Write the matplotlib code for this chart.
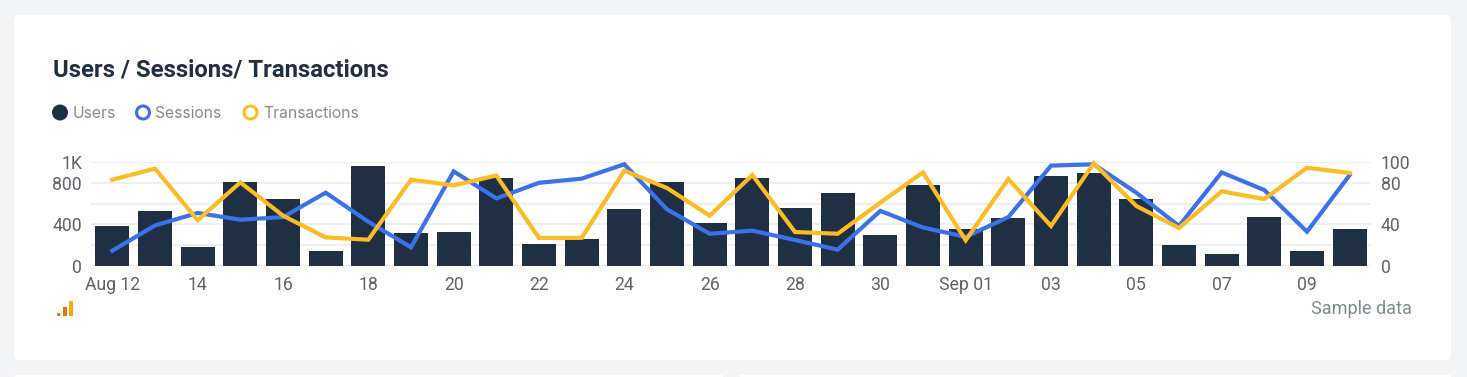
#!/usr/bin/env python3
# Users / Sessions / Transactions card
import matplotlib
matplotlib.use("Agg")
import matplotlib.pyplot as plt
from matplotlib.patches import FancyBboxPatch, Rectangle, Circle

W, H = 1467, 377

# ===== data =====
tick_labels = ["Aug 12", "14", "16", "18", "20", "22", "24", "26", "28", "30",
               "Sep 01", "03", "05", "07", "09"]
users = [385, 529, 183, 805, 644, 141, 960, 314, 327, 846,
         212, 256, 545, 805, 413, 846, 558, 702, 298, 776,
         356, 458, 862, 891, 644, 199, 112, 471, 141, 356]
sessions = [14.7, 39, 51, 44.5, 47, 70.5, 42.6, 18, 91, 65,
            80, 84, 97.8, 54.5, 31, 34, 25, 15.7, 53, 37,
            28, 47, 96.5, 97.8, 70.5, 38.5, 90, 73, 33, 87.5]
transactions = [83, 93.6, 44, 80.4, 48.4, 27.5, 25.3, 83, 77.5, 87,
                27, 27, 91.7, 75, 48.4, 87.5, 32.7, 31, 61, 90,
                24.7, 83.6, 38.5, 98.7, 57.7, 36.5, 71.8, 64.4, 94.5, 89.4]
left_ticks = [0, 200, 400, 600, 800, 1000]
left_labels = ["0", "", "400", "", "800", "1K"]
right_ticks = [0, 20, 40, 60, 80, 100]
right_labels = ["0", "", "40", "", "80", "100"]

NAVY = "#1f3044"
BLUE = "#3b72ea"
YELLOW = "#fdbb24"
TICK = "#5f6368"

fig = plt.figure(figsize=(W / 100, H / 100), dpi=100, facecolor="#f3f4f5")

# background layer in pixel coordinates: cards, legend, icon
bg = fig.add_axes([0, 0, 1, 1], zorder=0)
bg.set_xlim(0, W); bg.set_ylim(H, 0); bg.axis("off")
bg.add_patch(FancyBboxPatch((14, 15), 1437, 345, boxstyle="round,pad=0,rounding_size=6",
                            fc="white", ec="none"))
bg.add_patch(Rectangle((14, 375), 709, 3, fc="white", ec="none"))
bg.add_patch(Rectangle((740, 375), 711, 3, fc="white", ec="none"))

bg.text(53, 69.5, "Users / Sessions/ Transactions", family="Roboto", weight="bold",
        fontsize=17.2, color=NAVY, va="center", ha="left")

bg.add_patch(Circle((60, 112.5), 8, fc=NAVY, ec="none"))
bg.add_patch(Circle((143, 112.5), 6.5, fc="white", ec=BLUE, lw=2.2))
bg.add_patch(Circle((250.5, 112.5), 6.5, fc="white", ec=YELLOW, lw=2.2))
for lx, name in [(72.5, "Users"), (155.5, "Sessions"), (263, "Transactions")]:
    bg.text(lx, 113.5, name, family="Inter", fontsize=11.25, color="#8a8a8a",
            va="center", ha="left")

# analytics icon
bg.add_patch(Circle((58.7, 314.5), 1.7, fc="#e8710a", ec="none"))
bg.add_patch(Rectangle((62.5, 307), 4, 9, fc="#e8710a", ec="none"))
bg.add_patch(Rectangle((68.5, 301), 4, 15, fc="#f9ab00", ec="none"))

bg.text(1412, 309, "Sample data", family="Roboto", fontsize=13, color="#7f8a99",
        va="center", ha="right")

# chart
ax = fig.add_axes([91 / W, 1 - 266 / H, 1280 / W, 104 / H], zorder=2)
ax.patch.set_alpha(0)
x = list(range(len(users)))
ax.bar(x, users, width=0.8, color=NAVY, zorder=3)
ax.set_xlim(-0.5, len(users) - 0.5)
ax.set_ylim(0, 1000)
ax.set_yticks(left_ticks, left_labels)
ax.set_xticks(x[::2], tick_labels)
ax.grid(axis="y", color="#eeeff0", lw=1.5, zorder=0)
ax.set_axisbelow(True)
ax.tick_params(axis="both", length=0, labelsize=12.7, labelcolor=TICK)
ax.tick_params(axis="y", pad=6.5)
ax.tick_params(axis="x", pad=7)
for lab in ax.get_xticklabels() + ax.get_yticklabels():
    lab.set_family("Roboto")
for s in ax.spines.values():
    s.set_visible(False)

ax2 = ax.twinx()
ax2.set_zorder(3)
ax2.patch.set_alpha(0)
ax2.plot(x, sessions, color=BLUE, lw=3, solid_joinstyle="miter", clip_on=False)
ax2.plot(x, transactions, color=YELLOW, lw=3, solid_joinstyle="miter", clip_on=False)
ax2.set_ylim(0, 100)
ax2.set_yticks(right_ticks, right_labels)
ax2.tick_params(axis="y", length=0, labelsize=12.7, labelcolor=TICK, pad=7)
for lab in ax2.get_yticklabels():
    lab.set_family("Roboto")
for s in ax2.spines.values():
    s.set_visible(False)

fig.savefig("out.png", dpi=100, facecolor=fig.get_facecolor())
